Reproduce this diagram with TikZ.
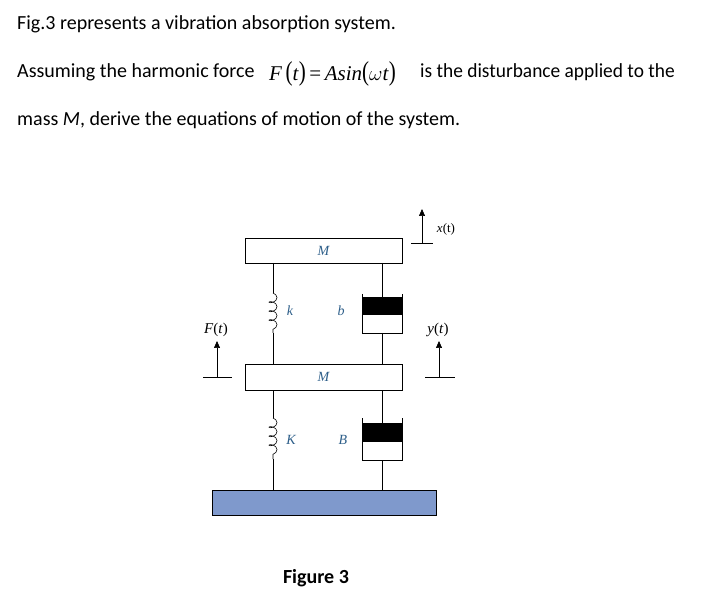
\documentclass[tikz,border=0pt]{standalone}
\usepackage{fontspec}
\setmainfont{Carlito}
\newfontfamily\tms{Liberation Serif}
\usetikzlibrary{arrows.meta,decorations.pathmorphing}
\definecolor{lbl}{HTML}{2E5F8A}
\definecolor{gnd}{HTML}{7F99CC}
\tikzset{
  txt/.style={anchor=west,inner sep=0pt,font=\fontsize{20}{22}\selectfont},
  lab/.style={inner sep=0pt,font=\tms\itshape\fontsize{14}{16}\selectfont,text=lbl},
  slab/.style={inner sep=0pt,font=\tms\fontsize{13}{15}\selectfont},
  mass/.style={draw,line width=0.6pt},
  ln/.style={line width=0.6pt},
  coil/.style={ln,decorate,decoration={coil,segment length=9pt,amplitude=4pt,aspect=0.6}},
  arr/.style={ln,-{Triangle[length=7pt,width=6pt]}}
}
\begin{document}
\begin{tikzpicture}[x=1pt,y=-1pt]
\useasboundingbox[fill=white] (0,0) rectangle (720,609);
\node[txt] (t1) at (17,24) {Fig.3 represents a vibration absorption system.};
\node[txt] (t2a) at (17,72) {Assuming the harmonic force};
\node[anchor=west,inner sep=0pt,font=\tms\fontsize{21}{22}\selectfont] (t2b) at (269,74) {\textit{F}\,\scalebox{1}[1.3]{(}\textit{t}\scalebox{1}[1.3]{)}\,=\,\textit{Asin}\scalebox{1}[1.3]{(}$\omega$\textit{t}\scalebox{1}[1.3]{)}};
\node[txt,xscale=0.97] (t2c) at (420,72) {is the disturbance applied to the};
\node[txt] (t3) at (17,120) {mass \textit{M}, derive the equations of motion of the system.};

% masses
\node[mass,minimum width=157pt,minimum height=25pt,inner sep=0pt] (m1) at (323.5,250.5) {};
\node[lab] at (m1) {M};
\node[mass,minimum width=157pt,minimum height=26pt,inner sep=0pt] (m2) at (323.5,377) {};
\node[lab] at (m2) {M};
\node[draw,fill=gnd,minimum width=224pt,minimum height=25pt,inner sep=0pt] (g) at (324,502.5) {};

% upper spring
\coordinate (s1a) at (273,263); \coordinate (s1b) at (273,293);
\coordinate (s1c) at (273,333); \coordinate (s1d) at (273,364);
\draw[ln] (s1a) -- (s1b); \draw[coil] (s1b) -- (s1c); \draw[ln] (s1c) -- (s1d);
\node[lab] at (290,311) {k};
% lower spring
\coordinate (s2a) at (273,390); \coordinate (s2b) at (273,418);
\coordinate (s2c) at (273,459); \coordinate (s2d) at (273,490);
\draw[ln] (s2a) -- (s2b); \draw[coil] (s2b) -- (s2c); \draw[ln] (s2c) -- (s2d);
\node[lab] at (291,440) {K};

% upper damper
\draw[ln] (362,294) -- (362,333) -- (402,333) -- (402,294);
\fill (362,297) rectangle (402,315);
\draw[ln] (382,263) -- (382,297);
\draw[ln] (382,333) -- (382,364);
\node[lab] at (341,311) {b};
% lower damper
\draw[ln] (362,418) -- (362,460) -- (402,460) -- (402,418);
\fill (362,423) rectangle (402,442);
\draw[ln] (382,390) -- (382,423);
\draw[ln] (382,460) -- (382,490);
\node[lab] at (343,440) {B};

% F(t)
\coordinate (fa) at (217,377); \coordinate (fb) at (217,341);
\draw[ln] (203,377) -- (232,377);
\draw[arr] (fa) -- (fb);
\node[slab,font=\tms\fontsize{15}{16}\selectfont] at (216,330) {\textit{F}(\textit{t})};
% y(t)
\coordinate (ya) at (439,377); \coordinate (yb) at (439,341);
\draw[ln] (425,377) -- (455,377);
\draw[arr] (ya) -- (yb);
\node[slab,font=\tms\fontsize{15}{16}\selectfont] at (438,330) {\textit{y}(\textit{t})};
% x(t)
\coordinate (xa) at (422,243); \coordinate (xb) at (422,209);
\draw[ln] (411,243) -- (433,243);
\draw[arr] (xa) -- (xb);
\node[slab] at (446,229) {\textit{x}(t)};

\node[inner sep=0pt,font=\bfseries\fontsize{20}{22}\selectfont] (cap) at (316,578) {Figure 3};
\end{tikzpicture}
\end{document}
